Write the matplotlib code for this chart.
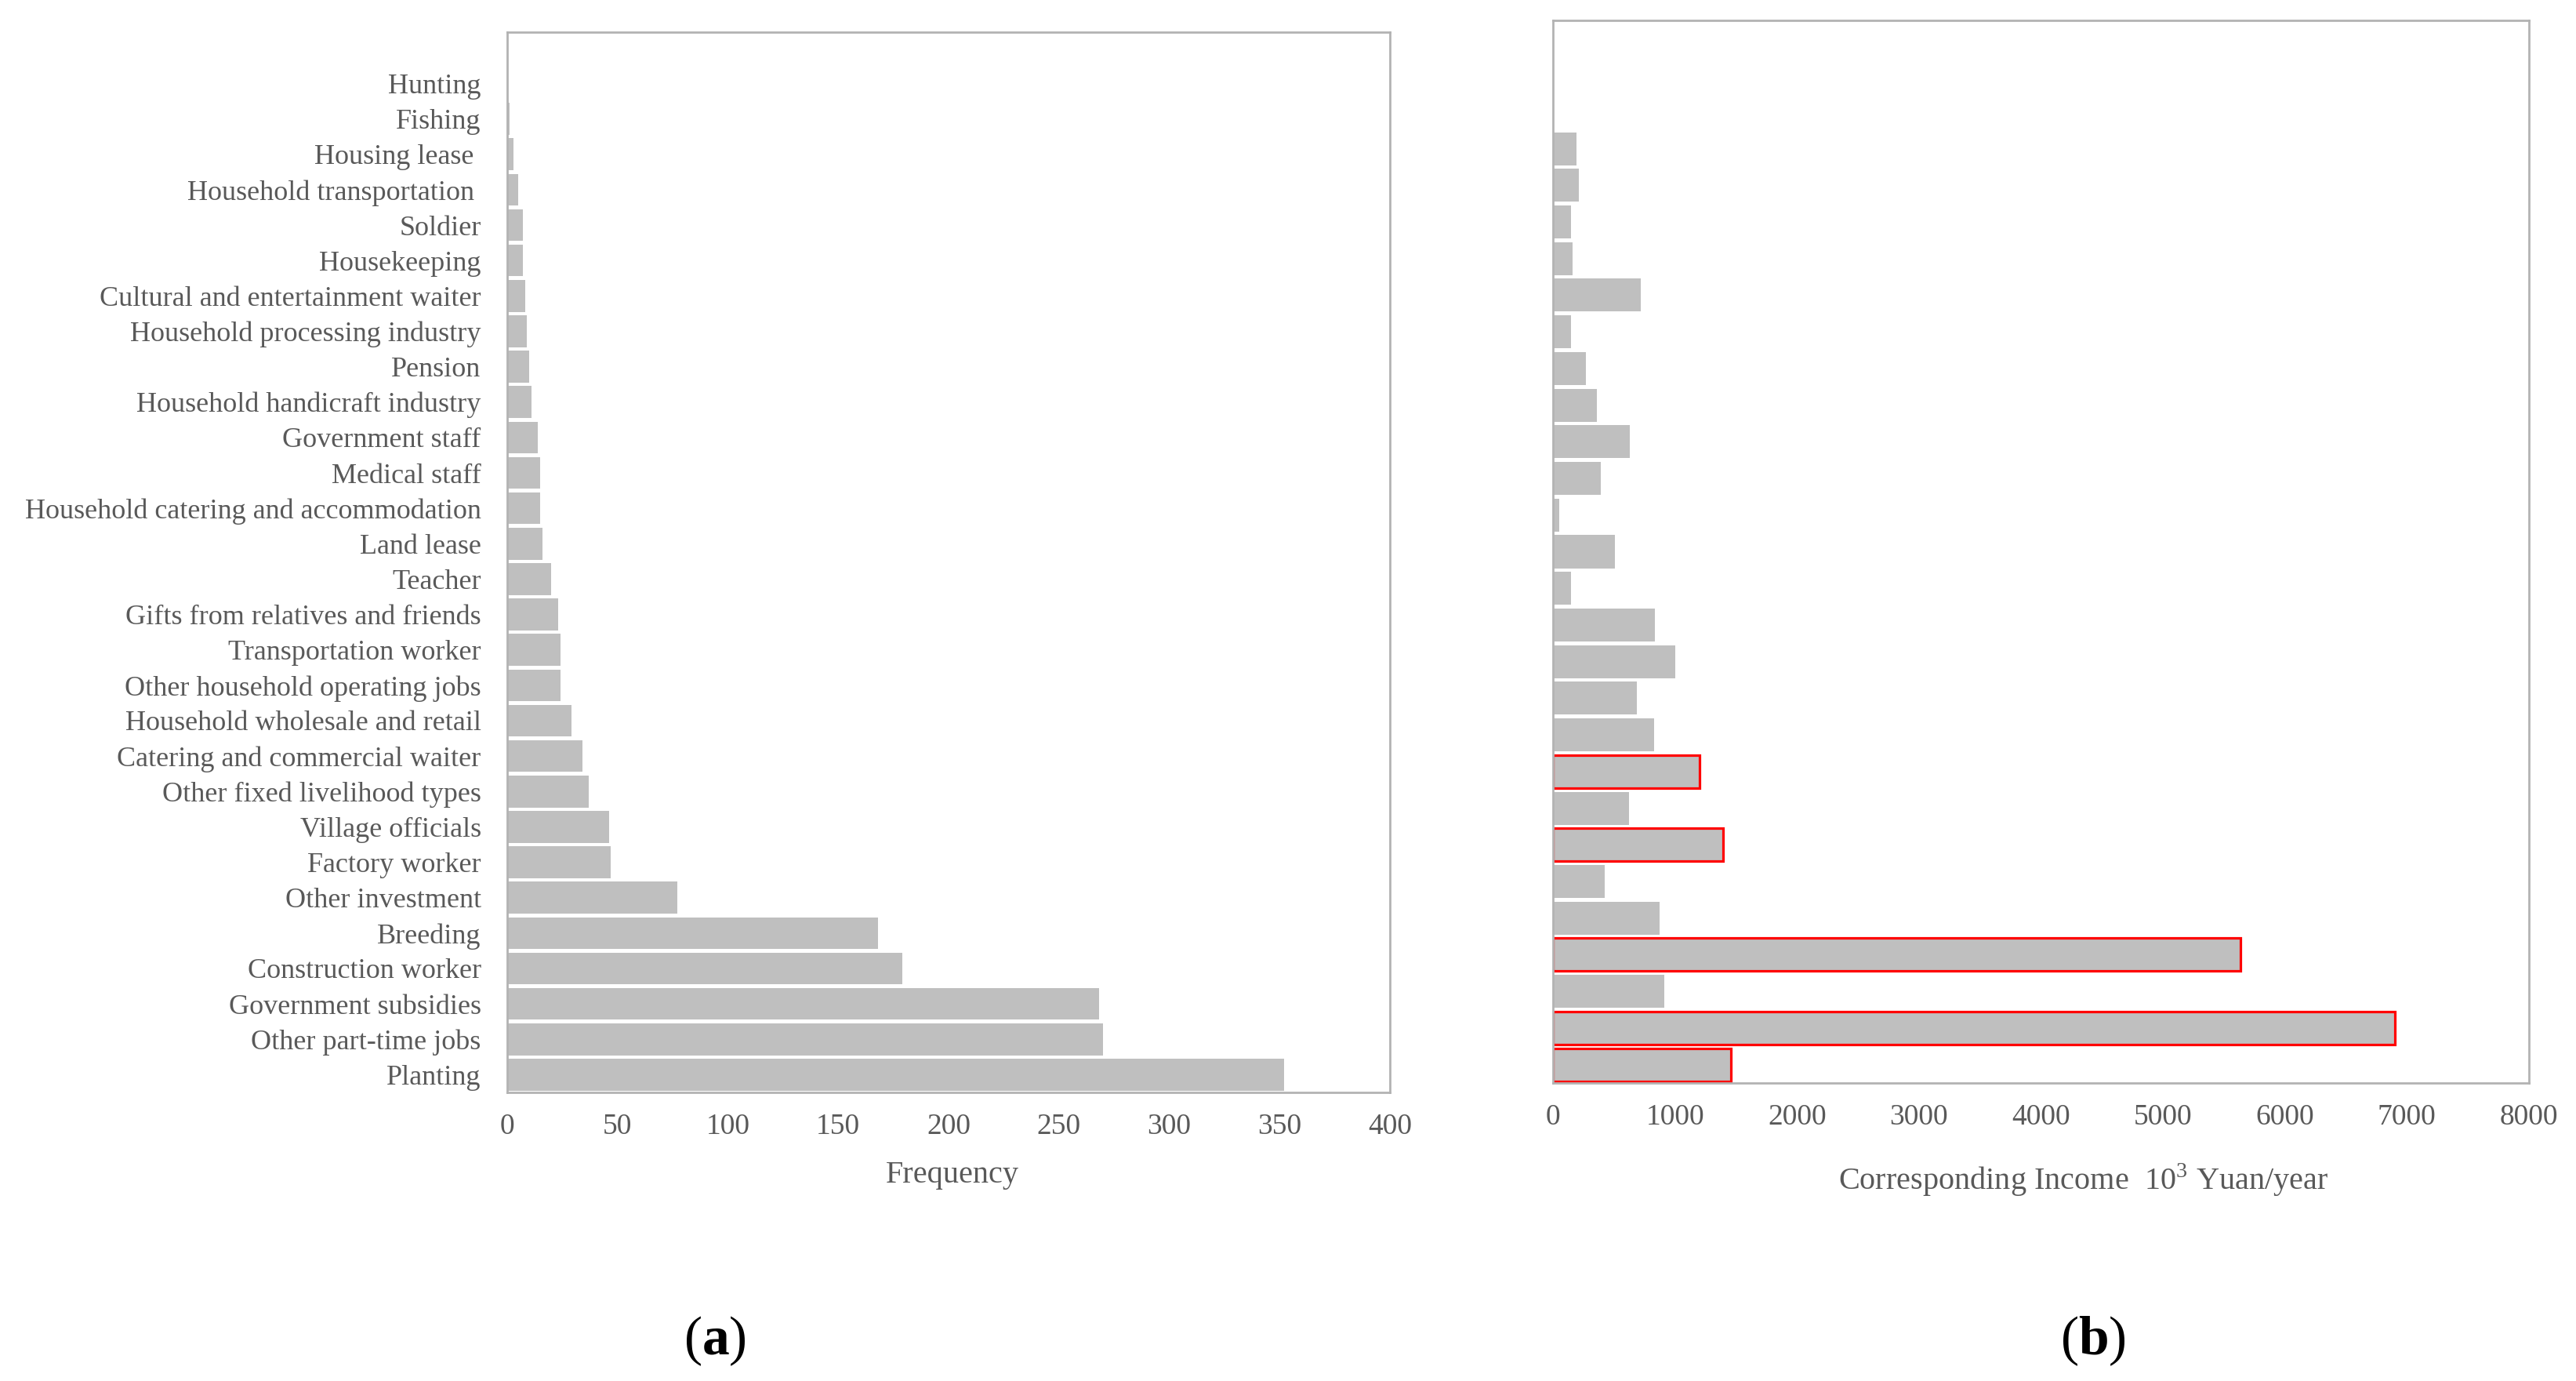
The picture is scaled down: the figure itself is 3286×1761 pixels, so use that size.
import matplotlib
matplotlib.use("Agg")
from matplotlib import pyplot as plt

plt.rcParams['font.family'] = ['Liberation Serif', 'DejaVu Serif']
plt.rcParams['mathtext.fontset'] = 'custom'
plt.rcParams['mathtext.rm'] = 'Liberation Serif'
plt.rcParams['mathtext.bf'] = 'Liberation Serif:bold'

# categories listed bottom -> top
categories = ["Planting", "Other part-time jobs", "Government subsidies", "Construction worker",
              "Breeding", "Other investment", "Factory worker", "Village officials",
              "Other fixed livelihood types", "Catering and commercial waiter",
              "Household wholesale and retail", "Other household operating jobs",
              "Transportation worker", "Gifts from relatives and friends", "Teacher", "Land lease",
              "Household catering and accommodation", "Medical staff", "Government staff",
              "Household handicraft industry", "Pension", "Household processing industry",
              "Cultural and entertainment waiter", "Housekeeping", "Soldier",
              "Household transportation ", "Housing lease ", "Fishing", "Hunting"]

frequency = [352, 270, 268, 179, 168, 77, 47, 46, 37, 34, 29, 24, 24, 23, 20, 16, 15, 15, 14,
             11, 10, 9, 8, 7, 7, 5, 3, 1, 0.5]

income = [1459, 6903, 912, 5638, 873, 424, 1393, 622, 1201, 828, 687, 999, 835, 146, 507, 53,
          391, 627, 359, 272, 146, 719, 162, 146, 211, 195, 0, 0, 0]
highlight = [0, 1, 3, 6, 8]

freq_ticks = [0, 50, 100, 150, 200, 250, 300, 350, 400]
income_ticks = [0, 1000, 2000, 3000, 4000, 5000, 6000, 7000, 8000]

bar_color = "#bfbfbf"
text_color = "#595959"
spine_color = "#b3b3b3"

fig = plt.figure(figsize=(32.86, 17.61), dpi=100)
ax1 = fig.add_axes([0.1969, 0.2090, 0.3427, 0.7677])
ax2 = fig.add_axes([0.6029, 0.2158, 0.3788, 0.7694])

pos = list(range(len(categories)))

# (a) frequency
ax1.barh(pos, frequency, height=0.9, color=bar_color, edgecolor="none")
ax1.set_ylim(-0.5, 29.45)
ax1.set_xlim(0, 400)
ax1.set_yticks(pos)
ax1.set_yticklabels(categories)
ax1.set_xticks(freq_ticks)
ax1.set_xticklabels([str(t) for t in freq_ticks])
ax1.tick_params(axis="y", length=0, pad=24, labelsize=26, labelcolor=text_color)
ax1.tick_params(axis="x", length=0, pad=19, labelsize=27, labelcolor=text_color)
ax1.set_xlabel("Frequency", fontsize=29, color=text_color)
ax1.xaxis.set_label_coords(0.504, -0.078)
ax1.xaxis.label.set_va("center")

# (b) income
bar_edges = ["red" if i in highlight else "none" for i in pos]
ax2.barh(pos, income, height=0.9, color=bar_color, edgecolor=bar_edges, linewidth=2.3)
ax2.set_ylim(-0.5, 28.5)
ax2.set_xlim(0, 8000)
ax2.set_yticks([])
ax2.set_xticks(income_ticks)
ax2.set_xticklabels([str(t) for t in income_ticks])
ax2.tick_params(axis="x", length=0, pad=19, labelsize=27, labelcolor=text_color)
ax2.set_xlabel("Corresponding Income  10$^{3}$ Yuan/year", fontsize=29, color=text_color)
ax2.xaxis.set_label_coords(0.543, -0.091)
ax2.xaxis.label.set_va("center")

for ax in (ax1, ax2):
    for s in ax.spines.values():
        s.set_color(spine_color)
        s.set_linewidth(2)

fig.text(0.2775, 0.029, r"($\mathbf{a}$)", fontsize=50, ha="center", va="center", color="black")
fig.text(0.8125, 0.029, r"($\mathbf{b}$)", fontsize=50, ha="center", va="center", color="black")

fig.savefig("out.png", dpi=100, facecolor="white")
